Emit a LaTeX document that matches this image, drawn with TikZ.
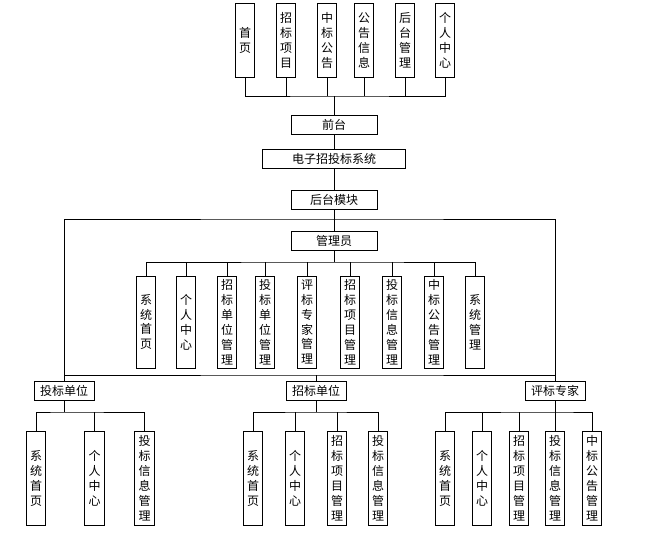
\documentclass[tikz,border=0pt]{standalone}
\usepackage{fontspec}
\newfontfamily\cjk{Noto Sans CJK SC}
\usetikzlibrary{positioning,calc}

\begin{document}
\begin{tikzpicture}[
        x=0.75pt, y=-0.75pt,
        hbox/.style={rectangle, draw, line width=0.6pt, minimum width=64.5pt, minimum height=14.5pt, inner sep=0pt, font=\cjk\fontsize{9}{11}\selectfont},
        vbox/.style={rectangle, draw, line width=0.6pt, minimum width=14.5pt, inner sep=0pt, align=center, font=\cjk\fontsize{9}{11.2}\selectfont},
        top/.style={vbox, minimum height=56pt},
        mid/.style={vbox, minimum height=69pt},
        low/.style={vbox, minimum height=71pt},
        link/.style={line width=0.6pt}
    ]
    \useasboundingbox (0,0) rectangle (645,532);

    % Front end pages
    \node[top] (p1) at (245,40.5) {首\\页};
    \node[top] (p2) at (286,40.5) {招\\标\\项\\目};
    \node[top] (p3) at (327,40.5) {中\\标\\公\\告};
    \node[top] (p4) at (364,40.5) {公\\告\\信\\息};
    \node[top] (p5) at (405,40.5) {后\\台\\管\\理};
    \node[top] (p6) at (445,40.5) {个\\人\\中\\心};

    % Main column
    \node[hbox] (front) at (334,125) {前台};
    \node[hbox, minimum width=107pt] (sys) at (334,159) {电子招投标系统};
    \node[hbox] (back) at (334,200) {后台模块};
    \node[hbox] (admin) at (334,241) {管理员};

    % Admin functions
    \node[mid] (a1) at (146,322) {系\\统\\首\\页};
    \node[mid] (a2) at (186,322) {个\\人\\中\\心};
    \node[mid] (a3) at (227,322) {招\\标\\单\\位\\管\\理};
    \node[mid] (a4) at (265,322) {投\\标\\单\\位\\管\\理};
    \node[mid] (a5) at (307,322) {评\\标\\专\\家\\管\\理};
    \node[mid] (a6) at (350,322) {招\\标\\项\\目\\管\\理};
    \node[mid] (a7) at (392,322) {投\\标\\信\\息\\管\\理};
    \node[mid] (a8) at (434,322) {中\\标\\公\\告\\管\\理};
    \node[mid] (a9) at (475,322) {系\\统\\管\\理};

    % User roles
    \node[hbox, minimum width=45pt] (bid) at (64,391) {投标单位};
    \node[hbox, minimum width=45pt] (ten) at (316,391) {招标单位};
    \node[hbox, minimum width=45pt] (exp) at (555,391) {评标专家};

    % Bidder functions
    \node[low] (b1) at (36,478.5) {系\\统\\首\\页};
    \node[low] (b2) at (94.5,478.5) {个\\人\\中\\心};
    \node[low] (b3) at (144.5,478.5) {投\\标\\信\\息\\管\\理};

    % Tenderer functions
    \node[low] (t1) at (253,478.5) {系\\统\\首\\页};
    \node[low] (t2) at (295,478.5) {个\\人\\中\\心};
    \node[low] (t3) at (337,478.5) {招\\标\\项\\目\\管\\理};
    \node[low] (t4) at (378,478.5) {投\\标\\信\\息\\管\\理};

    % Expert functions
    \node[low] (e1) at (445,478.5) {系\\统\\首\\页};
    \node[low] (e2) at (482,478.5) {个\\人\\中\\心};
    \node[low] (e3) at (519,478.5) {招\\标\\项\\目\\管\\理};
    \node[low] (e4) at (555,478.5) {投\\标\\信\\息\\管\\理};
    \node[low] (e5) at (592,478.5) {中\\标\\公\\告\\管\\理};

    % Bus coordinates
    \coordinate (pbus) at (334,96);
    \coordinate (mbus) at (334,219);
    \coordinate (abus) at (334,262);
    \coordinate (rbus) at (334,375);
    \coordinate (bbus) at (64,412);
    \coordinate (tbus) at (316,412);
    \coordinate (ebus) at (555,412);

    % Define connections
    \draw[link] (p1.south) |- (pbus) -| (p6.south);
    \draw[link] (p2.south) -- (p2.south |- pbus);
    \draw[link] (p3.south) -- (p3.south |- pbus);
    \draw[link] (p4.south) -- (p4.south |- pbus);
    \draw[link] (p5.south) -- (p5.south |- pbus);
    \draw[link] (pbus) -- (front);
    \draw[link] (front) -- (sys);
    \draw[link] (sys) -- (back);
    \draw[link] (back) -- (admin);

    \draw[link] (bid.north) |- (mbus) -| (exp.north);
    \draw[link] (bid.north) |- (rbus) -| (exp.north);
    \draw[link] (ten.north) -- (ten.north |- rbus);

    \draw[link] (a1.north) |- (abus) -| (a9.north);
    \draw[link] (admin) -- (abus);
    \draw[link] (a2.north) -- (a2.north |- abus);
    \draw[link] (a3.north) -- (a3.north |- abus);
    \draw[link] (a4.north) -- (a4.north |- abus);
    \draw[link] (a5.north) -- (a5.north |- abus);
    \draw[link] (a6.north) -- (a6.north |- abus);
    \draw[link] (a7.north) -- (a7.north |- abus);
    \draw[link] (a8.north) -- (a8.north |- abus);

    \draw[link] (bid) -- (bbus);
    \draw[link] (b1.north) |- (bbus) -| (b3.north);
    \draw[link] (b2.north) -- (b2.north |- bbus);

    \draw[link] (ten) -- (tbus);
    \draw[link] (t1.north) |- (tbus) -| (t4.north);
    \draw[link] (t2.north) -- (t2.north |- tbus);
    \draw[link] (t3.north) -- (t3.north |- tbus);

    \draw[link] (exp) -- (ebus);
    \draw[link] (e1.north) |- (ebus) -| (e5.north);
    \draw[link] (e2.north) -- (e2.north |- ebus);
    \draw[link] (e3.north) -- (e3.north |- ebus);
    \draw[link] (e4.north) -- (e4.north |- ebus);

\end{tikzpicture}
\end{document}
